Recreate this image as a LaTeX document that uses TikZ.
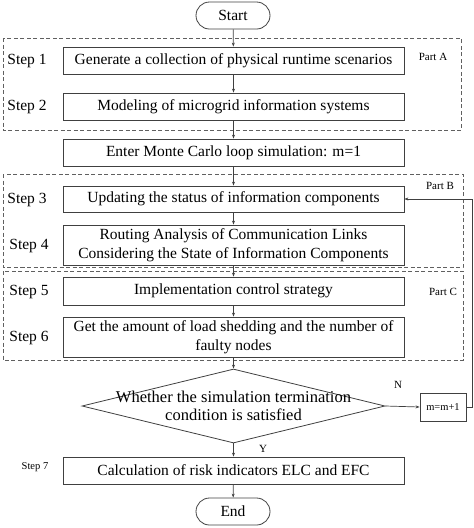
\documentclass[tikz,border=0pt]{standalone}
\usepackage{fontspec}
\setmainfont{Liberation Serif}
\usetikzlibrary{shapes.geometric,arrows.meta}
\definecolor{linec}{HTML}{404040}
\definecolor{dashc}{HTML}{606060}
\begin{document}
\begin{tikzpicture}[x=1pt,y=-1pt,
  box/.style={draw=linec,line width=0.8pt,minimum width=341pt,inner sep=0pt,align=center,font=\fontsize{15.5}{19}\selectfont},
  term/.style={draw=linec,line width=0.8pt,rounded corners=13.5pt,minimum width=74pt,minimum height=27pt,inner sep=0pt,font=\fontsize{15.5}{19}\selectfont},
  part/.style={draw=dashc,dashed,dash pattern=on 4pt off 2.5pt,line width=0.8pt},
  steplab/.style={font=\fontsize{15.5}{19}\selectfont,inner sep=0pt},
  partlab/.style={font=\fontsize{11}{13}\selectfont,inner sep=0pt},
  arr/.style={draw=linec,line width=0.7pt,-{Stealth[length=4pt,width=3pt]}}
]
\useasboundingbox (0,0) rectangle (474,528);
% dashed part frames
\draw[part] (3,38) rectangle (461,130);
\draw[part] (3,174) rectangle (463,267);
\draw[part] (3,271) rectangle (463,360);
% nodes
\node[term] (start) at (233,15.5) {Start};
\node[box,minimum height=27pt] (s1) at (233.5,60.5) {Generate a collection of physical runtime scenarios};
\node[box,minimum height=27pt] (s2) at (233.5,106.5) {Modeling of microgrid information systems};
\node[box,minimum height=27pt] (mc) at (233.5,152.5) {Enter Monte Carlo loop simulation: m=1};
\node[box,minimum height=26pt] (s3) at (233.5,199) {Updating the status of information components};
\node[box,minimum height=40pt] (s4) at (233.5,245) {Routing Analysis of Communication Links\\Considering the State of Information Components};
\node[box,minimum height=28pt] (s5) at (233.5,291) {Implementation control strategy};
\node[box,minimum height=40pt] (s6) at (233.5,337) {Get the amount of load shedding and the number of\\faulty nodes};
\node[diamond,draw=linec,line width=0.8pt,minimum width=303pt,minimum height=74pt,inner sep=0pt] (dia) at (233.5,406) {};
\node[align=center,inner sep=0pt,font=\fontsize{16.5}{18}\selectfont] (diatext) at (233.5,406) {Whether the simulation termination\\condition is satisfied};
\node[draw=linec,line width=0.8pt,minimum width=46pt,minimum height=28pt,inner sep=0pt,font=\fontsize{10.5}{12}\selectfont] (mm) at (443,407) {m=m+1};
\node[box,minimum height=27pt] (s7) at (233.5,470.5) {Calculation of risk indicators ELC and EFC};
\node[term] (end) at (233,511.5) {End};
% labels
\node[steplab] (l1) at (27,61) {Step 1};
\node[steplab] (l2) at (27,107) {Step 2};
\node[steplab] (l3) at (27,200) {Step 3};
\node[steplab] (l4) at (29,246) {Step 4};
\node[steplab] (l5) at (29,292) {Step 5};
\node[steplab] (l6) at (29,338) {Step 6};
\node[partlab,font=\fontsize{10.5}{12}\selectfont] (l7) at (35,467) {Step 7};
\node[partlab] (pa) at (433,57) {Part A};
\node[partlab] (pb) at (440,186) {Part B};
\node[partlab] (pc) at (443,292) {Part C};
\node[partlab] (ln) at (398,385) {N};
\node[partlab] (ly) at (263,449) {Y};
% connectors
\draw[arr] (start) -- (s1);
\draw[arr] (s1) -- (s2);
\draw[arr] (s2) -- (mc);
\draw[arr] (mc) -- (s3);
\draw[arr] (s3) -- (s4);
\draw[arr] (s4) -- (s5);
\draw[arr] (s5) -- (s6);
\draw[arr] (s6) -- (dia.north);
\draw[arr] (dia.south) -- (s7);
\draw[arr] (s7) -- (end);
\draw[arr] (dia.east) -- (mm.west);
\coordinate (fb1) at (472,407);
\coordinate (fb2) at (472,199);
\draw[arr] (mm.east) -- (fb1) -- (fb2) -- (s3.east);
\end{tikzpicture}
\end{document}
